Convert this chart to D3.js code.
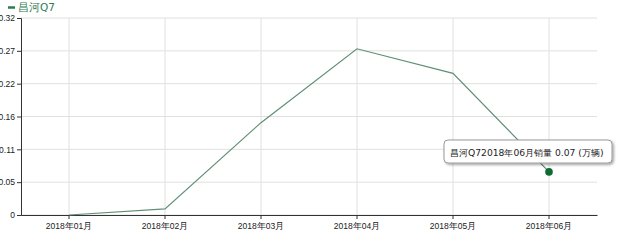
<!DOCTYPE html>
<html><head><meta charset="utf-8">
<script src="https://cdn.jsdelivr.net/npm/d3@7"></script>
<style>body{margin:0;background:#fff;}svg{display:block;font-family:"DejaVu Sans",sans-serif;}</style>
</head><body>
<script>
const categories = ["2018年01月","2018年02月","2018年03月","2018年04月","2018年05月","2018年06月"];
const sales = [0, 0.01, 0.15, 0.27, 0.23, 0.07];
const yTickLabels = ["0","0.05","0.11","0.16","0.22","0.27","0.32"];
const seriesName = "昌河Q7";
const yMax = 0.32;

const W = 620, H = 245;
const m = {l:21, r:23, t:18, b:30};
const svg = d3.select("body").append("svg").attr("width", W).attr("height", H);

const x = d3.scaleBand().domain(categories).range([m.l, W - m.r]);
const y = d3.scaleLinear().domain([0, yMax]).range([H - m.b, m.t]);
const cx = d => x(d) + x.bandwidth()/2;
const yTickVals = yTickLabels.map((_, i) => i * yMax / (yTickLabels.length - 1));

// grid
svg.append("g").selectAll("line").data(yTickVals).join("line")
  .attr("x1", m.l).attr("x2", W - m.r)
  .attr("y1", d => y(d)).attr("y2", d => y(d))
  .attr("stroke", "#e0e0e0").attr("stroke-width", 1);
svg.append("g").selectAll("line").data(categories).join("line")
  .attr("x1", d => cx(d)).attr("x2", d => cx(d))
  .attr("y1", m.t).attr("y2", H - m.b)
  .attr("stroke", "#e0e0e0").attr("stroke-width", 1);

// axes
const yAxis = d3.axisLeft(y).tickValues(yTickVals).tickFormat((d, i) => yTickLabels[i]).tickSize(4).tickPadding(2);
const gy = svg.append("g").attr("transform", `translate(${m.l},0)`).call(yAxis);
gy.select(".domain").attr("stroke", "#333");
gy.selectAll(".tick line").attr("stroke", "#333");
gy.selectAll("text").attr("font-size", 8.5).attr("fill", "#222");

const xAxis = d3.axisBottom(x).tickSize(4).tickSizeOuter(0).tickPadding(4);
const gx = svg.append("g").attr("transform", `translate(0,${H - m.b})`).call(xAxis);
gx.select(".domain").attr("stroke", "#333");
gx.selectAll(".tick line").attr("stroke", "#333");
gx.selectAll("text").attr("font-size", 8.5).attr("fill", "#222");

// line
const line = d3.line().x((d, i) => cx(categories[i])).y(d => y(d));
svg.append("path").datum(sales).attr("d", line)
  .attr("fill", "none").attr("stroke", "#5f8f74").attr("stroke-width", 1.2);

// highlighted point
const li = sales.length - 1;
svg.append("circle").attr("cx", cx(categories[li])).attr("cy", y(sales[li])).attr("r", 3.8)
  .attr("fill", "#0f6a32");

// legend
svg.append("line").attr("x1", 8).attr("x2", 15).attr("y1", 7.5).attr("y2", 7.5)
  .attr("stroke", "#2e7d4f").attr("stroke-width", 2.5);
svg.append("text").attr("x", 18).attr("y", 11).attr("font-size", 10.5)
  .attr("fill", "#2e7d4f").text(seriesName);

// tooltip
const defs = svg.append("defs");
const f = defs.append("filter").attr("id", "sh").attr("x", "-10%").attr("y", "-30%").attr("width", "130%").attr("height", "180%");
f.append("feDropShadow").attr("dx", 1.5).attr("dy", 1.5).attr("stdDeviation", 1.2).attr("flood-color", "#000").attr("flood-opacity", 0.35);
const tipText = `${seriesName}${categories[li]}销量 ${sales[li]} (万辆)`;
const tg = svg.append("g").attr("transform", `translate(444,140)`);
tg.append("rect").attr("width", 168).attr("height", 23).attr("rx", 4)
  .attr("fill", "#fff").attr("stroke", "#999").attr("filter", "url(#sh)");
const tt = tg.append("text").attr("x", 6).attr("y", 15.5).attr("font-size", 10).attr("fill", "#222").text(tipText);
const tw = tt.node().getComputedTextLength();
if (tw > 155) tt.attr("font-size", 10 * 155 / tw);
</script>
</body></html>
